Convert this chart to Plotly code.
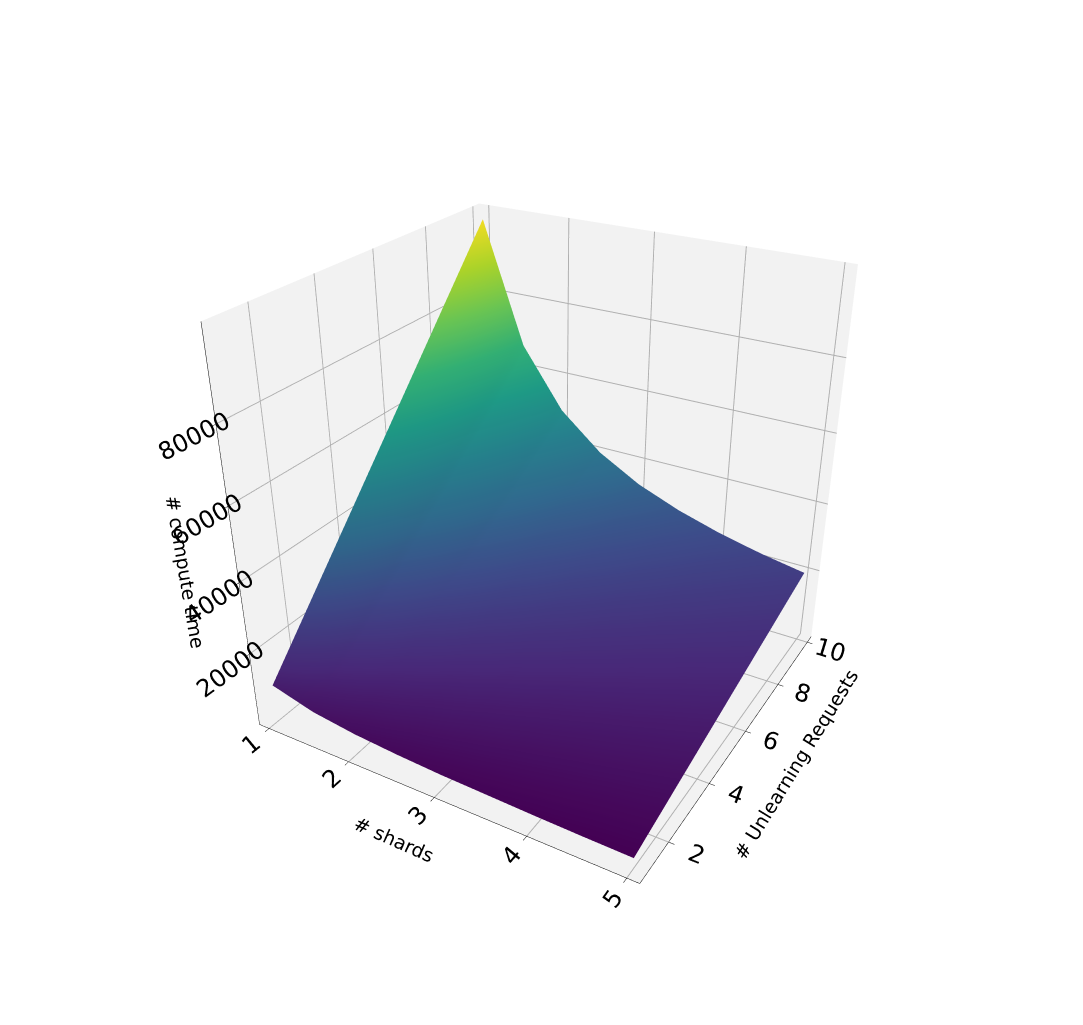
import plotly.graph_objects as go

# grid of the surface: shards along x, unlearning requests along y
shards = [1, 1.5, 2, 2.5, 3, 3.5, 4, 4.5, 5]
requests = [1, 2, 3, 4, 5, 6, 7, 8, 9, 10]

# compute time, one row per request count
compute_time = [
    [10000, 6700, 5000, 4000, 3300, 2900, 2500, 2200, 2000],
    [20000, 13300, 10000, 8000, 6700, 5700, 5000, 4400, 4000],
    [30000, 20000, 15000, 12000, 10000, 8600, 7500, 6700, 6000],
    [40000, 26700, 20000, 16000, 13300, 11400, 10000, 8900, 8000],
    [50000, 33300, 25000, 20000, 16700, 14300, 12500, 11100, 10000],
    [60000, 40000, 30000, 24000, 20000, 17100, 15000, 13300, 12000],
    [70000, 46700, 35000, 28000, 23300, 20000, 17500, 15600, 14000],
    [80000, 53300, 40000, 32000, 26700, 22900, 20000, 17800, 16000],
    [90000, 60000, 45000, 36000, 30000, 25700, 22500, 20000, 18000],
    [100000, 66700, 50000, 40000, 33300, 28600, 25000, 22200, 20000],
]

fig = go.Figure(go.Surface(
    x=shards, y=requests, z=compute_time,
    colorscale="Viridis", showscale=False,
    lighting=dict(ambient=0.95, diffuse=0.1, specular=0.0, roughness=1.0),
))

axis_style = dict(
    backgroundcolor="#f2f2f2", showbackground=True,
    gridcolor="#b0b0b0", zeroline=False,
    showline=True, linecolor="black", ticks="outside", tickcolor="black",
    tickfont=dict(size=17, color="black"),
    title_font=dict(size=19, color="black"),
)

fig.update_layout(
    width=1083, height=1025,
    paper_bgcolor="white",
    font=dict(family="DejaVu Sans"),
    margin=dict(l=0, r=0, t=0, b=0),
    scene=dict(
        xaxis=dict(title="# shards", tickvals=[1, 2, 3, 4, 5], **axis_style),
        yaxis=dict(title="# Unlearning Requests", tickvals=[2, 4, 6, 8, 10], **axis_style),
        zaxis=dict(title="# compute time", tickvals=[20000, 40000, 60000, 80000],
                   ticktext=["20000", "40000", "60000", "80000"], **axis_style),
        aspectmode="cube",
        camera=dict(eye=dict(x=1.25, y=-2.15, z=1.35), center=dict(x=0, y=0, z=-0.05)),
    ),
)

fig.write_html("out.html")
